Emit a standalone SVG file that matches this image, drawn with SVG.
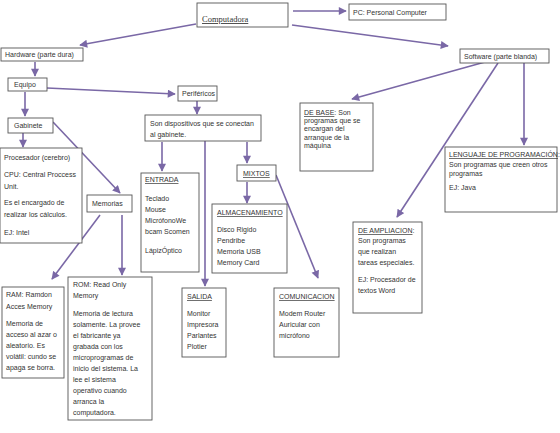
<svg xmlns="http://www.w3.org/2000/svg" width="560" height="433" viewBox="0 0 560 433">
<style>
.box{fill:#fff;stroke:#555;stroke-width:0.9}
.t{font-family:"Liberation Sans",Arial,sans-serif;font-size:7px;fill:#333}
.u{text-decoration:underline}
.c{stroke:#7a68a6;stroke-width:1.6;fill:none}
</style>
<defs>
<marker id="ah" viewBox="0 0 10 10" refX="9" refY="5" markerWidth="5.5" markerHeight="5" orient="auto" markerUnits="strokeWidth">
<path d="M0,0 L10,5 L0,10 z" fill="#7a68a6"/>
</marker>
</defs>
<rect width="560" height="433" fill="#fff"/>
<g id="connectors">
<line class="c" x1="293" y1="11" x2="346" y2="11" marker-end="url(#ah)"/>
<line class="c" x1="292" y1="25" x2="448" y2="46" marker-end="url(#ah)"/>
<line class="c" x1="196" y1="24" x2="80" y2="45" marker-end="url(#ah)"/>
<line class="c" x1="35" y1="62" x2="35" y2="76" marker-end="url(#ah)"/>
<line class="c" x1="47" y1="88" x2="175" y2="94" marker-end="url(#ah)"/>
<line class="c" x1="25" y1="92" x2="25" y2="116" marker-end="url(#ah)"/>
<line class="c" x1="197" y1="101" x2="197" y2="114" marker-end="url(#ah)"/>
<line class="c" x1="23" y1="133" x2="23" y2="147" marker-end="url(#ah)"/>
<line class="c" x1="53" y1="122" x2="120" y2="193" marker-end="url(#ah)"/>
<line class="c" x1="100" y1="215" x2="52" y2="279" marker-end="url(#ah)"/>
<line class="c" x1="122" y1="215" x2="122" y2="275" marker-end="url(#ah)"/>
<line class="c" x1="162" y1="142" x2="162" y2="171" marker-end="url(#ah)"/>
<line class="c" x1="205" y1="141" x2="205" y2="286" marker-end="url(#ah)"/>
<line class="c" x1="247" y1="142" x2="247" y2="163" marker-end="url(#ah)"/>
<line class="c" x1="247" y1="182" x2="247" y2="203" marker-end="url(#ah)"/>
<line class="c" x1="276" y1="175" x2="318" y2="278" marker-end="url(#ah)"/>
<line class="c" x1="485" y1="62" x2="352" y2="99" marker-end="url(#ah)"/>
<line class="c" x1="498" y1="63" x2="397" y2="217" marker-end="url(#ah)"/>
<line class="c" x1="524" y1="63" x2="524" y2="145" marker-end="url(#ah)"/>
</g>
<g id="computadora">
<rect class="box" x="197" y="3" width="91" height="24"/>
<text x="202" y="22" font-family="'Liberation Serif',serif" font-size="8.5" fill="#333" text-decoration="underline">Computadora</text>
</g>
<g id="pc">
<rect class="box" x="349" y="4" width="97" height="16"/>
<text class="t" x="353" y="15" font-size="7.4">PC: Personal Computer</text>
</g>
<g id="software">
<rect class="box" x="460" y="49" width="89" height="14"/>
<text class="t" x="464" y="59">Software (parte blanda)</text>
</g>
<g id="hardware">
<rect class="box" x="1" y="48" width="82" height="13"/>
<text class="t" x="5" y="57">Hardware (parte dura)</text>
</g>
<g id="equipo">
<rect class="box" x="8" y="78" width="39" height="13"/>
<text class="t" x="14" y="87">Equipo</text>
</g>
<g id="perifericos">
<rect class="box" x="178" y="86" width="39" height="15"/>
<text class="t" x="182" y="96">Periféricos</text>
</g>
<g id="gabinete">
<rect class="box" x="8" y="118" width="45" height="15"/>
<text class="t" x="14" y="128">Gabinete</text>
</g>
<g id="dispositivos">
<rect class="box" x="145" y="115" width="116" height="26"/>
<text class="t" x="150" y="126">Son dispositivos que se conectan</text>
<text class="t" x="150" y="137">al gabinete.</text>
</g>
<g id="procesador">
<rect class="box" x="0" y="148" width="82" height="95"/>
<text class="t" x="4" y="160">Procesador (cerebro)</text>
<text class="t" x="4" y="177">CPU: Central Proccess</text>
<text class="t" x="4" y="189">Unit.</text>
<text class="t" x="4" y="205">Es el encargado de</text>
<text class="t" x="4" y="217">realizar los cálculos.</text>
<text class="t" x="4" y="235">EJ: Intel</text>
</g>
<g id="memorias">
<rect class="box" x="87" y="195" width="45" height="17"/>
<text class="t" x="92" y="206">Memorias</text>
</g>
<g id="ram">
<rect class="box" x="2" y="287" width="62" height="91"/>
<text class="t" x="6" y="297">RAM: Ramdon</text>
<text class="t" x="6" y="309">Acces Memory</text>
<text class="t" x="6" y="326">Memoria de</text>
<text class="t" x="6" y="337">acceso al azar o</text>
<text class="t" x="6" y="348">aleatorio. Es</text>
<text class="t" x="6" y="359">volátil: cundo se</text>
<text class="t" x="6" y="370">apaga se borra.</text>
</g>
<g id="rom">
<rect class="box" x="68" y="277" width="84" height="143"/>
<text class="t" x="73" y="287">ROM: Read Only</text>
<text class="t" x="73" y="298">Memory</text>
<text class="t" x="73" y="316">Memoria de lectura</text>
<text class="t" x="73" y="327">solamente. La provee</text>
<text class="t" x="73" y="338">el fabricante ya</text>
<text class="t" x="73" y="349">grabada con los</text>
<text class="t" x="73" y="360">microprogramas de</text>
<text class="t" x="73" y="371">inicio del sistema. La</text>
<text class="t" x="73" y="382">lee el sistema</text>
<text class="t" x="73" y="393">operativo cuando</text>
<text class="t" x="73" y="404">arranca la</text>
<text class="t" x="73" y="415">computadora.</text>
</g>
<g id="entrada">
<rect class="box" x="141" y="173" width="58" height="99"/>
<text class="t u" x="145" y="182">ENTRADA</text>
<text class="t" x="145" y="201">Teclado</text>
<text class="t" x="145" y="212">Mouse</text>
<text class="t" x="145" y="223">MicrófonoWe</text>
<text class="t" x="145" y="234">bcam Scomen</text>
<text class="t" x="145" y="253">LápizÓptico</text>
</g>
<g id="mixtos">
<rect class="box" x="237" y="165" width="39" height="16"/>
<text class="t u" x="243" y="176">MIXTOS</text>
</g>
<g id="almacenamiento">
<rect class="box" x="212" y="204" width="75" height="69"/>
<text class="t u" x="217" y="215">ALMACENAMIENTO</text>
<text class="t" x="217" y="232">Disco Rigido</text>
<text class="t" x="217" y="243">Pendribe</text>
<text class="t" x="217" y="254">Memoria USB</text>
<text class="t" x="217" y="265">Memory Card</text>
</g>
<g id="salida">
<rect class="box" x="182" y="288" width="44" height="69"/>
<text class="t u" x="187" y="299">SALIDA</text>
<text class="t" x="187" y="316">Monitor</text>
<text class="t" x="187" y="327">Impresora</text>
<text class="t" x="187" y="338">Parlantes</text>
<text class="t" x="187" y="349">Plotier</text>
</g>
<g id="comunicacion">
<rect class="box" x="274" y="288" width="65" height="69"/>
<text class="t u" x="279" y="299" font-size="6.8">COMUNICACION</text>
<text class="t" x="279" y="316">Modem  Router</text>
<text class="t" x="279" y="327">Auricular con</text>
<text class="t" x="279" y="338">micrófono</text>
</g>
<g id="debase">
<rect class="box" x="300" y="103" width="73" height="68"/>
<text class="t" x="304" y="115"><tspan class="u"> DE BASE</tspan>: Son</text>
<text class="t" x="304" y="123">programas que se</text>
<text class="t" x="304" y="131">encargan del</text>
<text class="t" x="304" y="140">arranque de la</text>
<text class="t" x="304" y="148">máquina</text>
</g>
<g id="lenguaje">
<rect class="box" x="445" y="147" width="112" height="65"/>
<text class="t" x="449" y="157" font-size="6.6"><tspan class="u">LENGUAJE DE PROGRAMACIÓN</tspan>:</text>
<text class="t" x="449" y="167">Son programas que creen otros</text>
<text class="t" x="449" y="176">programas</text>
<text class="t" x="449" y="190">EJ: Java</text>
</g>
<g id="ampliacion">
<rect class="box" x="353" y="222" width="69" height="91"/>
<text class="t" x="358" y="233"><tspan class="u">DE AMPLIACION</tspan>:</text>
<text class="t" x="358" y="243">Son programas</text>
<text class="t" x="358" y="254">que realizan</text>
<text class="t" x="358" y="265">tareas especiales.</text>
<text class="t" x="358" y="282">EJ: Procesador de</text>
<text class="t" x="358" y="293">textos Word</text>
</g>
</svg>
